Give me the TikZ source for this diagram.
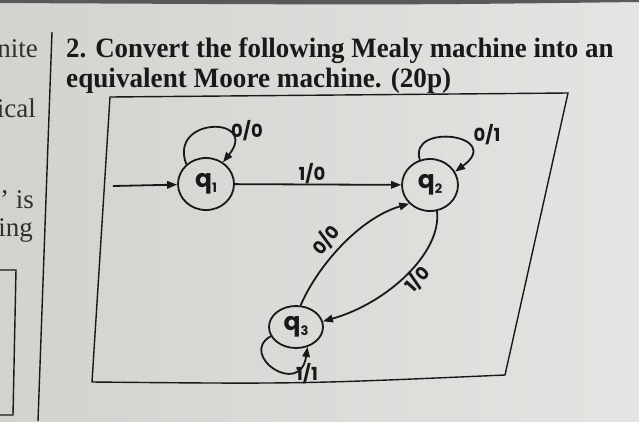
\documentclass[tikz,border=0pt]{standalone}
\usepackage{fontspec}
\setmainfont{Liberation Serif}
\newfontfamily\labfont{Poppins}
\usetikzlibrary{arrows.meta,shapes.geometric}
\definecolor{paperL}{RGB}{210,210,207}
\definecolor{paperR}{RGB}{228,228,226}
\definecolor{ink}{RGB}{25,25,25}
\newcommand{\subn}[1]{\raisebox{-5pt}{\fontsize{13}{13}\selectfont #1}}
\begin{document}
\begin{tikzpicture}[x=1pt,y=-1pt,
  state/.style={draw=ink,line width=1.8pt,ellipse,minimum width=56pt,minimum height=52pt,inner sep=0pt,
    font=\labfont\bfseries\fontsize{25}{25}\selectfont,text=ink},
  edge/.style={draw=ink,line width=1.8pt,-{Triangle[length=10pt,width=7.5pt]}},
  lab/.style={font=\labfont\bfseries\fontsize{18}{18}\selectfont,text=ink,inner sep=0pt},
  frame/.style={draw=ink,line width=1.4pt},
  txt/.style={font=\fontsize{28}{28}\selectfont,text=ink,inner sep=0pt},
  side/.style={font=\fontsize{27}{27}\selectfont,text=ink!90,inner sep=0pt}]
\useasboundingbox (0,0) rectangle (639,421);
\clip (0,0) rectangle (639,421);
\shade[left color=paperL,right color=paperR] (0,0) rectangle (639,421);
\fill[black!65] (0,0) -- (639,0) -- (639,2) .. controls (400,5) .. (0,3) -- cycle;
% left column fragments
\node[side,anchor=base east] (f1) at (38,57) {nite};
\node[side,anchor=base east] (f2) at (36,117) {ical};
\node[side,anchor=base east] (f3) at (34,208) {’ is};
\node[side,anchor=base east] (f4) at (33,236) {ing};
\draw[frame] (-5,270) -- (16,270) -- (13,415) -- (-5,415);
\draw[frame] (52,32) -- (38,421);
% title
\node[txt,anchor=base west,xscale=0.96] (t1) at (66,57) {\bfseries 2. Convert the following Mealy machine into an};
\node[txt,anchor=base west,xscale=0.97] (t2) at (66,87) {\bfseries equivalent Moore machine. (20p)};
% frame
\draw[frame] (110,97) -- (568,93) -- (505,375) .. controls (300,384) .. (92,382) -- cycle;
% states
\node[state] (q1) at (206,184) {q\subn{1}};
\node[state] (q2) at (430,185) {q\subn{2}};
\node[state,minimum width=54pt,minimum height=42pt] (q3) at (296,327) {q\subn{3}};
\coordinate (init) at (113,186);
\draw[edge] (init) -- (q1);
\draw[edge] (q1.135) .. controls (168,116) and (260,116) .. (q1.52);
\node[lab] (l11) at (247,131) {0/0};
\draw[edge] (q1) -- (q2);
\node[lab] (l12) at (312,174) {1/0};
\draw[edge] (q2.112) .. controls (408,122) and (505,135) .. (q2.28);
\node[lab] (l22) at (487,135) {0/1};
\draw[edge] (q3.78) .. controls (318,265) and (360,218) .. (q2.222);
\node[lab,rotate=50] (l32) at (326,240) {0/0};
\draw[edge] (q2.285) .. controls (442,252) and (388,303) .. (q3.12);
\node[lab,rotate=48] (l23) at (417,279) {1/0};
\draw[edge] (q3.200) .. controls (238,355) and (300,398) .. (q3.300);
\node[lab] (l33) at (307,374) {1/1};
\end{tikzpicture}
\end{document}
